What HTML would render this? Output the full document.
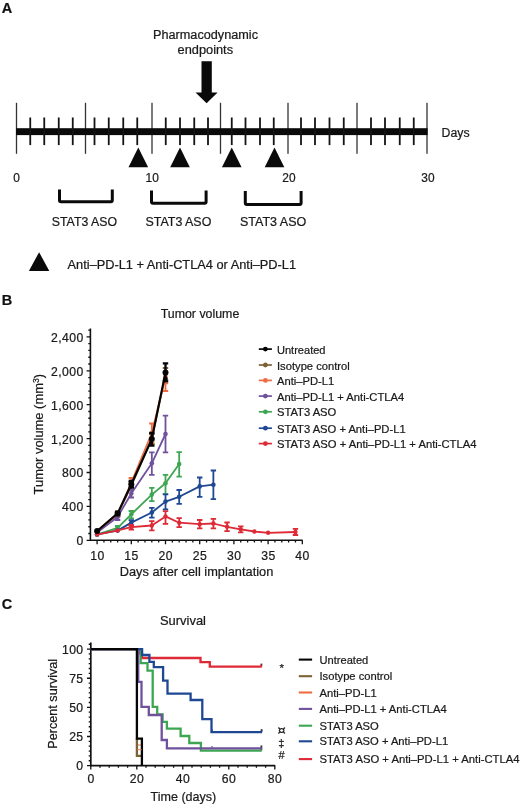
<!DOCTYPE html>
<html lang="en"><head><meta charset="utf-8"><title>Figure</title>
<style>
html,body{margin:0;padding:0;background:#fff;}
body{width:520px;height:805px;overflow:hidden;}
svg{display:block;font-family:"Liberation Sans", Arial, Helvetica, sans-serif;}
text{white-space:pre;stroke:#1a1a1a;stroke-width:0.22px;}
</style></head><body>
<svg width="520" height="805" viewBox="0 0 520 805">
<rect width="520" height="805" fill="#fff"/>
<text x="1.8" y="13.3" font-size="14.5" text-anchor="start" font-weight="bold" fill="#111">A</text>
<text x="205.5" y="38.8" font-size="12" text-anchor="middle" font-weight="normal" fill="#1a1a1a" textLength="105" lengthAdjust="spacingAndGlyphs">Pharmacodynamic</text>
<text x="205.3" y="53.8" font-size="12" text-anchor="middle" font-weight="normal" fill="#1a1a1a" textLength="55.5" lengthAdjust="spacingAndGlyphs">endpoints</text>
<path d="M201.5 61.2H211.8V92.5H217.6L206.6 103.2L195.5 92.5H201.5Z" fill="#0a0a0a"/>
<rect x="15.85" y="102.8" width="1.3" height="51" fill="#333"/>
<rect x="84.85" y="102.8" width="1.3" height="51" fill="#333"/>
<rect x="151.35" y="102.8" width="1.3" height="51" fill="#333"/>
<rect x="219.85" y="102.8" width="1.3" height="51" fill="#333"/>
<rect x="287.35" y="102.8" width="1.3" height="51" fill="#333"/>
<rect x="356.35" y="102.8" width="1.3" height="51" fill="#333"/>
<rect x="426.35" y="102.8" width="1.3" height="51" fill="#333"/>
<rect x="16" y="128.2" width="411.6" height="6.9" fill="#0a0a0a"/>
<rect x="29.35" y="117.5" width="1.8" height="27.6" fill="#141414"/>
<rect x="43.35" y="117.5" width="1.8" height="27.6" fill="#141414"/>
<rect x="57.85" y="117.5" width="1.8" height="27.6" fill="#141414"/>
<rect x="71.85" y="117.5" width="1.8" height="27.6" fill="#141414"/>
<rect x="93.6" y="117.5" width="1.8" height="27.6" fill="#141414"/>
<rect x="107.85" y="117.5" width="1.8" height="27.6" fill="#141414"/>
<rect x="122.35" y="117.5" width="1.8" height="27.6" fill="#141414"/>
<rect x="136.35" y="117.5" width="1.8" height="27.6" fill="#141414"/>
<rect x="164.85" y="117.5" width="1.8" height="27.6" fill="#141414"/>
<rect x="179.1" y="117.5" width="1.8" height="27.6" fill="#141414"/>
<rect x="193.35" y="117.5" width="1.8" height="27.6" fill="#141414"/>
<rect x="207.1" y="117.5" width="1.8" height="27.6" fill="#141414"/>
<rect x="230.85" y="117.5" width="1.8" height="27.6" fill="#141414"/>
<rect x="244.6" y="117.5" width="1.8" height="27.6" fill="#141414"/>
<rect x="259.1" y="117.5" width="1.8" height="27.6" fill="#141414"/>
<rect x="272.85" y="117.5" width="1.8" height="27.6" fill="#141414"/>
<rect x="300.1" y="117.5" width="1.8" height="27.6" fill="#141414"/>
<rect x="314.1" y="117.5" width="1.8" height="27.6" fill="#141414"/>
<rect x="328.6" y="117.5" width="1.8" height="27.6" fill="#141414"/>
<rect x="342.85" y="117.5" width="1.8" height="27.6" fill="#141414"/>
<rect x="370.1" y="117.5" width="1.8" height="27.6" fill="#141414"/>
<rect x="384.1" y="117.5" width="1.8" height="27.6" fill="#141414"/>
<rect x="398.85" y="117.5" width="1.8" height="27.6" fill="#141414"/>
<rect x="412.85" y="117.5" width="1.8" height="27.6" fill="#141414"/>
<path d="M138.3 147.4L148.10000000000002 167.2H128.5Z" fill="#0a0a0a"/>
<path d="M180 147.4L189.8 167.2H170.2Z" fill="#0a0a0a"/>
<path d="M231.75 147.4L241.55 167.2H221.95Z" fill="#0a0a0a"/>
<path d="M274.5 147.4L284.3 167.2H264.7Z" fill="#0a0a0a"/>
<text x="16.6" y="182.2" font-size="11.9" text-anchor="middle" font-weight="normal" fill="#1a1a1a">0</text>
<text x="152.2" y="182.2" font-size="11.9" text-anchor="middle" font-weight="normal" fill="#1a1a1a">10</text>
<text x="288.9" y="182.2" font-size="11.9" text-anchor="middle" font-weight="normal" fill="#1a1a1a">20</text>
<text x="427.9" y="182.2" font-size="11.9" text-anchor="middle" font-weight="normal" fill="#1a1a1a">30</text>
<text x="441.6" y="137" font-size="12" text-anchor="start" font-weight="normal" fill="#1a1a1a" textLength="28" lengthAdjust="spacingAndGlyphs">Days</text>
<path d="M59.5 189.5V200.2Q59.5 201.7 61 201.7H110.8Q112.3 201.7 112.3 200.2V189.5" fill="none" stroke="#0a0a0a" stroke-width="3"/>
<path d="M151.5 190.5V201.8Q151.5 203.3 153 203.3H204.6Q206.1 203.3 206.1 201.8V190.5" fill="none" stroke="#0a0a0a" stroke-width="3"/>
<path d="M245.3 191V203Q245.3 204.5 246.8 204.5H299.6Q301.1 204.5 301.1 203V191" fill="none" stroke="#0a0a0a" stroke-width="3"/>
<text x="51.8" y="225.5" font-size="12" text-anchor="start" font-weight="normal" fill="#1a1a1a" textLength="65.2" lengthAdjust="spacingAndGlyphs">STAT3 ASO</text>
<text x="145.5" y="225.5" font-size="12" text-anchor="start" font-weight="normal" fill="#1a1a1a" textLength="65.8" lengthAdjust="spacingAndGlyphs">STAT3 ASO</text>
<text x="240" y="225.5" font-size="12" text-anchor="start" font-weight="normal" fill="#1a1a1a" textLength="66.3" lengthAdjust="spacingAndGlyphs">STAT3 ASO</text>
<path d="M39.1 252.2L49.3 270.9H28.9Z" fill="#0a0a0a"/>
<text x="67.6" y="269.2" font-size="12" text-anchor="start" font-weight="normal" fill="#1a1a1a" textLength="228.5" lengthAdjust="spacingAndGlyphs">Anti–PD-L1 + Anti-CTLA4 or Anti–PD-L1</text>
<text x="1.8" y="304.6" font-size="14.5" text-anchor="start" font-weight="bold" fill="#111">B</text>
<text x="200" y="317.7" font-size="12.3" text-anchor="middle" font-weight="normal" fill="#1a1a1a" textLength="78.6" lengthAdjust="spacingAndGlyphs">Tumor volume</text>
<path d="M90.4 328.6V540.3H302.6" fill="none" stroke="#111" stroke-width="1.6"/>
<path d="M86.60000000000001 540.30H90.4M88.30000000000001 533.52H90.4M88.30000000000001 526.74H90.4M88.30000000000001 519.96H90.4M88.30000000000001 513.18H90.4M86.60000000000001 506.40H90.4M88.30000000000001 499.62H90.4M88.30000000000001 492.84H90.4M88.30000000000001 486.06H90.4M88.30000000000001 479.28H90.4M86.60000000000001 472.50H90.4M88.30000000000001 465.72H90.4M88.30000000000001 458.94H90.4M88.30000000000001 452.16H90.4M88.30000000000001 445.38H90.4M86.60000000000001 438.60H90.4M88.30000000000001 431.82H90.4M88.30000000000001 425.04H90.4M88.30000000000001 418.26H90.4M88.30000000000001 411.48H90.4M86.60000000000001 404.70H90.4M88.30000000000001 397.92H90.4M88.30000000000001 391.14H90.4M88.30000000000001 384.36H90.4M88.30000000000001 377.58H90.4M86.60000000000001 370.80H90.4M88.30000000000001 364.02H90.4M88.30000000000001 357.24H90.4M88.30000000000001 350.46H90.4M88.30000000000001 343.68H90.4M86.60000000000001 336.90H90.4M88.30000000000001 330.12H90.4" stroke="#111" stroke-width="1.3" fill="none"/>
<text x="83.8" y="545.2" font-size="12.2" text-anchor="end" font-weight="normal" fill="#1a1a1a" letter-spacing="0.45">0</text>
<text x="83.8" y="511.3" font-size="12.2" text-anchor="end" font-weight="normal" fill="#1a1a1a" letter-spacing="0.45">400</text>
<text x="83.8" y="477.4" font-size="12.2" text-anchor="end" font-weight="normal" fill="#1a1a1a" letter-spacing="0.45">800</text>
<text x="83.8" y="443.5" font-size="12.2" text-anchor="end" font-weight="normal" fill="#1a1a1a" letter-spacing="0.45">1,200</text>
<text x="83.8" y="409.6" font-size="12.2" text-anchor="end" font-weight="normal" fill="#1a1a1a" letter-spacing="0.45">1,600</text>
<text x="83.8" y="375.7" font-size="12.2" text-anchor="end" font-weight="normal" fill="#1a1a1a" letter-spacing="0.45">2,000</text>
<text x="83.8" y="341.8" font-size="12.2" text-anchor="end" font-weight="normal" fill="#1a1a1a" letter-spacing="0.45">2,400</text>
<path d="M97.10 540.3V544.3M103.94 540.3V542.4M110.78 540.3V542.4M117.62 540.3V542.4M124.46 540.3V542.4M131.30 540.3V544.3M138.14 540.3V542.4M144.98 540.3V542.4M151.82 540.3V542.4M158.66 540.3V542.4M165.50 540.3V544.3M172.34 540.3V542.4M179.18 540.3V542.4M186.02 540.3V542.4M192.86 540.3V542.4M199.70 540.3V544.3M206.54 540.3V542.4M213.38 540.3V542.4M220.22 540.3V542.4M227.06 540.3V542.4M233.90 540.3V544.3M240.74 540.3V542.4M247.58 540.3V542.4M254.42 540.3V542.4M261.26 540.3V542.4M268.10 540.3V544.3M274.94 540.3V542.4M281.78 540.3V542.4M288.62 540.3V542.4M295.46 540.3V542.4M302.30 540.3V544.3" stroke="#111" stroke-width="1.3" fill="none"/>
<text x="97.4" y="559.8" font-size="12.2" text-anchor="middle" font-weight="normal" fill="#1a1a1a" letter-spacing="0.45">10</text>
<text x="131.6" y="559.8" font-size="12.2" text-anchor="middle" font-weight="normal" fill="#1a1a1a" letter-spacing="0.45">15</text>
<text x="165.8" y="559.8" font-size="12.2" text-anchor="middle" font-weight="normal" fill="#1a1a1a" letter-spacing="0.45">20</text>
<text x="200.0" y="559.8" font-size="12.2" text-anchor="middle" font-weight="normal" fill="#1a1a1a" letter-spacing="0.45">25</text>
<text x="234.2" y="559.8" font-size="12.2" text-anchor="middle" font-weight="normal" fill="#1a1a1a" letter-spacing="0.45">30</text>
<text x="268.4" y="559.8" font-size="12.2" text-anchor="middle" font-weight="normal" fill="#1a1a1a" letter-spacing="0.45">35</text>
<text x="302.6" y="559.8" font-size="12.2" text-anchor="middle" font-weight="normal" fill="#1a1a1a" letter-spacing="0.45">40</text>
<text x="196.5" y="575.8" font-size="12.6" text-anchor="middle" font-weight="normal" fill="#1a1a1a" textLength="153.5" lengthAdjust="spacingAndGlyphs">Days after cell implantation</text>
<text transform="translate(43.2 494.4) rotate(-90)" font-size="12.5" fill="#1a1a1a" textLength="120.5" lengthAdjust="spacingAndGlyphs">Tumor volume (mm<tspan font-size="8.5" dy="-4.6">3</tspan><tspan dy="4.6">)</tspan></text>
<path d="M97.10 531.2L117.62 514L131.30 486L151.82 439L165.50 374" fill="none" stroke="#7d6234" stroke-width="1.8" stroke-linejoin="round"/>
<path d="M117.62 512V516M114.92 512H120.32M114.92 516H120.32M131.30 482V490M128.60 482H134.00M128.60 490H134.00M151.82 434V444M149.12 434H154.52M149.12 444H154.52M165.50 368V380M162.80 368H168.20M162.80 380H168.20" fill="none" stroke="#7d6234" stroke-width="1.8"/>
<circle cx="97.10" cy="531.2" r="2.3" fill="#7d6234"/>
<circle cx="117.62" cy="514" r="2.3" fill="#7d6234"/>
<circle cx="131.30" cy="486" r="2.3" fill="#7d6234"/>
<circle cx="151.82" cy="439" r="2.3" fill="#7d6234"/>
<circle cx="165.50" cy="374" r="2.3" fill="#7d6234"/>
<path d="M97.10 531.5L117.62 514.5L131.30 482.5L151.82 433L165.50 377" fill="none" stroke="#ee6c43" stroke-width="1.8" stroke-linejoin="round"/>
<path d="M117.62 512V517M114.92 512H120.32M114.92 517H120.32M131.30 478V487M128.60 478H134.00M128.60 487H134.00M151.82 423.5V442.5M149.12 423.5H154.52M149.12 442.5H154.52M165.50 383.4V391M162.80 383.4H168.20M162.80 391H168.20" fill="none" stroke="#ee6c43" stroke-width="1.8"/>
<circle cx="97.10" cy="531.5" r="2.3" fill="#ee6c43"/>
<circle cx="117.62" cy="514.5" r="2.3" fill="#ee6c43"/>
<circle cx="131.30" cy="482.5" r="2.3" fill="#ee6c43"/>
<circle cx="151.82" cy="433" r="2.3" fill="#ee6c43"/>
<circle cx="165.50" cy="377" r="2.3" fill="#ee6c43"/>
<path d="M97.10 532.5L117.62 517L131.30 493.5L151.82 463.3L165.50 434" fill="none" stroke="#6f519c" stroke-width="1.8" stroke-linejoin="round"/>
<path d="M117.62 514V520M114.92 514H120.32M114.92 520H120.32M131.30 489.8V497.5M128.60 489.8H134.00M128.60 497.5H134.00M151.82 452.4V474.8M149.12 452.4H154.52M149.12 474.8H154.52M165.50 415.7V452.4M162.80 415.7H168.20M162.80 452.4H168.20" fill="none" stroke="#6f519c" stroke-width="1.8"/>
<circle cx="97.10" cy="532.5" r="2.3" fill="#6f519c"/>
<circle cx="117.62" cy="517" r="2.3" fill="#6f519c"/>
<circle cx="131.30" cy="493.5" r="2.3" fill="#6f519c"/>
<circle cx="151.82" cy="463.3" r="2.3" fill="#6f519c"/>
<circle cx="165.50" cy="434" r="2.3" fill="#6f519c"/>
<path d="M97.10 534.5L117.62 527.8L131.30 514.3L151.82 494.6L165.50 483.2L179.18 464.1" fill="none" stroke="#3ea653" stroke-width="1.8" stroke-linejoin="round"/>
<path d="M117.62 526V529.6M114.92 526H120.32M114.92 529.6H120.32M131.30 511V518.4M128.60 511H134.00M128.60 518.4H134.00M151.82 487.8V501.2M149.12 487.8H154.52M149.12 501.2H154.52M165.50 474.9V494.2M162.80 474.9H168.20M162.80 494.2H168.20M179.18 452.1V476.6M176.48 452.1H181.88M176.48 476.6H181.88" fill="none" stroke="#3ea653" stroke-width="1.8"/>
<circle cx="97.10" cy="534.5" r="2.3" fill="#3ea653"/>
<circle cx="117.62" cy="527.8" r="2.3" fill="#3ea653"/>
<circle cx="131.30" cy="514.3" r="2.3" fill="#3ea653"/>
<circle cx="151.82" cy="494.6" r="2.3" fill="#3ea653"/>
<circle cx="165.50" cy="483.2" r="2.3" fill="#3ea653"/>
<circle cx="179.18" cy="464.1" r="2.3" fill="#3ea653"/>
<path d="M97.10 534.4L117.62 530.6L131.30 522.6L151.82 512.5L165.50 501.6L179.18 496.8L199.70 486.4L213.38 484.7" fill="none" stroke="#1f4894" stroke-width="1.8" stroke-linejoin="round"/>
<path d="M131.30 520.2V525.6M128.60 520.2H134.00M128.60 525.6H134.00M151.82 507.8V517.6M149.12 507.8H154.52M149.12 517.6H154.52M165.50 494.4V509.4M162.80 494.4H168.20M162.80 509.4H168.20M179.18 490V503.8M176.48 490H181.88M176.48 503.8H181.88M199.70 477.5V496.8M197.00 477.5H202.40M197.00 496.8H202.40M213.38 470.5V499.1M210.68 470.5H216.08M210.68 499.1H216.08" fill="none" stroke="#1f4894" stroke-width="1.8"/>
<circle cx="97.10" cy="534.4" r="2.3" fill="#1f4894"/>
<circle cx="117.62" cy="530.6" r="2.3" fill="#1f4894"/>
<circle cx="131.30" cy="522.6" r="2.3" fill="#1f4894"/>
<circle cx="151.82" cy="512.5" r="2.3" fill="#1f4894"/>
<circle cx="165.50" cy="501.6" r="2.3" fill="#1f4894"/>
<circle cx="179.18" cy="496.8" r="2.3" fill="#1f4894"/>
<circle cx="199.70" cy="486.4" r="2.3" fill="#1f4894"/>
<circle cx="213.38" cy="484.7" r="2.3" fill="#1f4894"/>
<path d="M97.10 534.6L117.62 530.4L131.30 527.2L151.82 525.5L165.50 516.4L179.18 522.7L199.70 524.2L213.38 523.5L227.06 526.8L240.74 529.3L254.42 531.5L268.10 532.8L295.46 532" fill="none" stroke="#dd2a36" stroke-width="1.8" stroke-linejoin="round"/>
<path d="M131.30 525V529.6M128.60 525H134.00M128.60 529.6H134.00M151.82 521.2V530.3M149.12 521.2H154.52M149.12 530.3H154.52M165.50 511.2V523.9M162.80 511.2H168.20M162.80 523.9H168.20M179.18 518.1V527.1M176.48 518.1H181.88M176.48 527.1H181.88M199.70 520V528.3M197.00 520H202.40M197.00 528.3H202.40M213.38 518.8V528.3M210.68 518.8H216.08M210.68 528.3H216.08M227.06 522.5V531.2M224.36 522.5H229.76M224.36 531.2H229.76M240.74 526.3V532.4M238.04 526.3H243.44M238.04 532.4H243.44M295.46 528.8V535M292.76 528.8H298.16M292.76 535H298.16" fill="none" stroke="#dd2a36" stroke-width="1.8"/>
<circle cx="97.10" cy="534.6" r="2.2" fill="#dd2a36"/>
<circle cx="117.62" cy="530.4" r="2.2" fill="#dd2a36"/>
<circle cx="131.30" cy="527.2" r="2.2" fill="#dd2a36"/>
<circle cx="151.82" cy="525.5" r="2.2" fill="#dd2a36"/>
<circle cx="165.50" cy="516.4" r="2.2" fill="#dd2a36"/>
<circle cx="179.18" cy="522.7" r="2.2" fill="#dd2a36"/>
<circle cx="199.70" cy="524.2" r="2.2" fill="#dd2a36"/>
<circle cx="213.38" cy="523.5" r="2.2" fill="#dd2a36"/>
<circle cx="227.06" cy="526.8" r="2.2" fill="#dd2a36"/>
<circle cx="240.74" cy="529.3" r="2.2" fill="#dd2a36"/>
<circle cx="254.42" cy="531.5" r="2.2" fill="#dd2a36"/>
<circle cx="268.10" cy="532.8" r="2.2" fill="#dd2a36"/>
<circle cx="295.46" cy="532" r="2.2" fill="#dd2a36"/>
<path d="M97.10 531L117.62 513.4L131.30 484.2L151.82 439L165.50 372.5" fill="none" stroke="#050505" stroke-width="2.1" stroke-linejoin="round"/>
<path d="M117.62 511.6V515.2M114.92 511.6H120.32M114.92 515.2H120.32M131.30 481V487.5M128.60 481H134.00M128.60 487.5H134.00M151.82 433V445.6M149.12 433H154.52M149.12 445.6H154.52M165.50 363.3V381.3M162.80 363.3H168.20M162.80 381.3H168.20" fill="none" stroke="#050505" stroke-width="2.3"/>
<circle cx="97.10" cy="531" r="3.0" fill="#050505"/>
<circle cx="117.62" cy="513.4" r="3.0" fill="#050505"/>
<circle cx="131.30" cy="484.2" r="3.0" fill="#050505"/>
<circle cx="151.82" cy="439" r="3.0" fill="#050505"/>
<circle cx="165.50" cy="372.5" r="3.0" fill="#050505"/>
<circle cx="165.50" cy="378.6" r="2.2" fill="#050505"/>
<path d="M258.8 349.1H271.9" stroke="#050505" stroke-width="1.7"/><circle cx="265.4" cy="349.1" r="2.4" fill="#050505"/>
<text x="277" y="353.6" font-size="11.2" text-anchor="start" font-weight="normal" fill="#1a1a1a" textLength="48.5" lengthAdjust="spacingAndGlyphs">Untreated</text>
<path d="M258.8 365H271.9" stroke="#7d6234" stroke-width="1.7"/><circle cx="265.4" cy="365" r="2.4" fill="#7d6234"/>
<text x="277" y="369.5" font-size="11.2" text-anchor="start" font-weight="normal" fill="#1a1a1a">Isotype control</text>
<path d="M258.8 380.4H271.9" stroke="#ee6c43" stroke-width="1.7"/><circle cx="265.4" cy="380.4" r="2.4" fill="#ee6c43"/>
<text x="277" y="384.9" font-size="11.2" text-anchor="start" font-weight="normal" fill="#1a1a1a">Anti–PD-L1</text>
<path d="M258.8 396.1H271.9" stroke="#6f519c" stroke-width="1.7"/><circle cx="265.4" cy="396.1" r="2.4" fill="#6f519c"/>
<text x="277" y="400.6" font-size="11.2" text-anchor="start" font-weight="normal" fill="#1a1a1a">Anti–PD-L1 + Anti-CTLA4</text>
<path d="M258.8 411.8H271.9" stroke="#3ea653" stroke-width="1.7"/><circle cx="265.4" cy="411.8" r="2.4" fill="#3ea653"/>
<text x="277" y="416.3" font-size="11.2" text-anchor="start" font-weight="normal" fill="#1a1a1a">STAT3 ASO</text>
<path d="M258.8 428.2H271.9" stroke="#1f4894" stroke-width="1.7"/><circle cx="265.4" cy="428.2" r="2.4" fill="#1f4894"/>
<text x="277" y="432.7" font-size="11.2" text-anchor="start" font-weight="normal" fill="#1a1a1a">STAT3 ASO + Anti–PD-L1</text>
<path d="M258.8 443.6H271.9" stroke="#dd2a36" stroke-width="1.7"/><circle cx="265.4" cy="443.6" r="2.4" fill="#dd2a36"/>
<text x="277" y="448.1" font-size="11.2" text-anchor="start" font-weight="normal" fill="#1a1a1a" textLength="199.5" lengthAdjust="spacingAndGlyphs">STAT3 ASO + Anti–PD-L1 + Anti-CTLA4</text>
<text x="1.8" y="609.4" font-size="14.5" text-anchor="start" font-weight="bold" fill="#111">C</text>
<text x="183" y="624.6" font-size="12.4" text-anchor="middle" font-weight="normal" fill="#1a1a1a" textLength="46" lengthAdjust="spacingAndGlyphs">Survival</text>
<path d="M90.8 642.6V765.6H275.2" fill="none" stroke="#111" stroke-width="1.7"/>
<path d="M87.0 765.60H90.8M88.7 760.75H90.8M88.7 755.89H90.8M88.7 751.04H90.8M88.7 746.18H90.8M88.7 741.33H90.8M87.0 736.48H90.8M88.7 731.62H90.8M88.7 726.77H90.8M88.7 721.91H90.8M88.7 717.06H90.8M88.7 712.20H90.8M87.0 707.35H90.8M88.7 702.50H90.8M88.7 697.64H90.8M88.7 692.79H90.8M88.7 687.93H90.8M88.7 683.08H90.8M87.0 678.23H90.8M88.7 673.37H90.8M88.7 668.52H90.8M88.7 663.66H90.8M88.7 658.81H90.8M88.7 653.95H90.8M87.0 649.10H90.8M88.7 644.25H90.8" stroke="#111" stroke-width="1.3" fill="none"/>
<path d="M90.80 765.6V769.6M100.00 765.6V767.7M109.20 765.6V767.7M118.40 765.6V767.7M127.60 765.6V767.7M136.80 765.6V769.6M146.00 765.6V767.7M155.20 765.6V767.7M164.40 765.6V767.7M173.60 765.6V767.7M182.80 765.6V769.6M192.00 765.6V767.7M201.20 765.6V767.7M210.40 765.6V767.7M219.60 765.6V767.7M228.80 765.6V769.6M238.00 765.6V767.7M247.20 765.6V767.7M256.40 765.6V767.7M265.60 765.6V767.7M274.80 765.6V769.6" stroke="#111" stroke-width="1.3" fill="none"/>
<text x="83.6" y="770.1" font-size="12.2" text-anchor="end" font-weight="normal" fill="#1a1a1a" letter-spacing="0.45">0</text>
<text x="83.6" y="740.98" font-size="12.2" text-anchor="end" font-weight="normal" fill="#1a1a1a" letter-spacing="0.45">25</text>
<text x="83.6" y="711.85" font-size="12.2" text-anchor="end" font-weight="normal" fill="#1a1a1a" letter-spacing="0.45">50</text>
<text x="83.6" y="682.73" font-size="12.2" text-anchor="end" font-weight="normal" fill="#1a1a1a" letter-spacing="0.45">75</text>
<text x="83.6" y="653.6" font-size="12.2" text-anchor="end" font-weight="normal" fill="#1a1a1a" letter-spacing="0.45">100</text>
<text x="91.1" y="783" font-size="12.2" text-anchor="middle" font-weight="normal" fill="#1a1a1a" letter-spacing="0.45">0</text>
<text x="137.1" y="783" font-size="12.2" text-anchor="middle" font-weight="normal" fill="#1a1a1a" letter-spacing="0.45">20</text>
<text x="183.1" y="783" font-size="12.2" text-anchor="middle" font-weight="normal" fill="#1a1a1a" letter-spacing="0.45">40</text>
<text x="229.1" y="783" font-size="12.2" text-anchor="middle" font-weight="normal" fill="#1a1a1a" letter-spacing="0.45">60</text>
<text x="275.1" y="783" font-size="12.2" text-anchor="middle" font-weight="normal" fill="#1a1a1a" letter-spacing="0.45">80</text>
<text x="183.4" y="800.8" font-size="12.8" text-anchor="middle" font-weight="normal" fill="#1a1a1a" textLength="65.8" lengthAdjust="spacingAndGlyphs">Time (days)</text>
<text transform="translate(57.4 748.8) rotate(-90)" font-size="12.5" fill="#1a1a1a" textLength="90" lengthAdjust="spacingAndGlyphs">Percent survival</text>
<path d="M90.8 649.2H139.5V653.6H142V658H200.5V662.1H209.8V666.6H261.8V666.6" fill="none" stroke="#dd2a36" stroke-width="2.3" stroke-linejoin="miter"/>
<path d="M261.4 666.6v-2.9" stroke="#dd2a36" stroke-width="1.7"/><path d="M261.4 665.6v-1.9" stroke="#222" stroke-opacity="0.55" stroke-width="1.7"/>
<path d="M90.8 649.2H140.7V663.1H147.5V670.6H152.7V706.9H157.2V714.4H162.6V721.9H166.9V728.7H180.6V736H189.3V743H200.9V750.7H261.8V750.7" fill="none" stroke="#3ea653" stroke-width="2.3" stroke-linejoin="miter"/>
<path d="M261.4 750.7v-2.9" stroke="#3ea653" stroke-width="1.7"/><path d="M261.4 749.7v-1.9" stroke="#222" stroke-opacity="0.55" stroke-width="1.7"/>
<path d="M90.8 649.2H138.2V681.9H141.5V706.9H148.8V715H161.7V740H166.9V748.4H261.8V748.4" fill="none" stroke="#6f519c" stroke-width="2.3" stroke-linejoin="miter"/>
<path d="M261.4 748.4v-2.9" stroke="#6f519c" stroke-width="1.7"/><path d="M261.4 747.4v-1.9" stroke="#222" stroke-opacity="0.55" stroke-width="1.7"/>
<path d="M90.8 649.2H142.1V655H149.4V661.9H153.8V667.2H163.1V680.6H167.5V693.6H190.6V700H202.3V719.2H211.5V732.2H262V732.2" fill="none" stroke="#1f4894" stroke-width="2.3" stroke-linejoin="miter"/>
<path d="M261.6 732.2v-2.9" stroke="#1f4894" stroke-width="1.7"/><path d="M261.6 731.2v-1.9" stroke="#222" stroke-opacity="0.55" stroke-width="1.7"/>
<path d="M137.2 745H141.9V745" fill="none" stroke="#ee6c43" stroke-width="1.3" stroke-linejoin="miter" opacity="0.75"/>
<path d="M136.9 738.6H136.9V755.8H141.9V755.8" fill="none" stroke="#7d6234" stroke-width="2.3" stroke-linejoin="miter"/>
<path d="M90.8 649.2H136.9V738.6H141.9V765.6" fill="none" stroke="#050505" stroke-width="2.3" stroke-linejoin="miter"/>
<path d="M137 749.6H141.9" stroke="#ee6c43" stroke-width="1.2" opacity="0.7"/>
<path d="M212 748.6v-2.6" stroke="#6f519c" stroke-width="1.2"/>
<path d="M212.3 732.2v-2.6" stroke="#1f4894" stroke-width="1.2"/>
<text x="281.7" y="671.6" font-size="11.5" text-anchor="middle" font-weight="normal" fill="#1a1a1a">*</text>
<text x="281.6" y="734.0" font-size="13" text-anchor="middle" font-weight="normal" fill="#1a1a1a" font-family="DejaVu Sans, sans-serif">¤</text>
<text x="281.3" y="747.0" font-size="11.2" text-anchor="middle" font-weight="normal" fill="#1a1a1a">‡</text>
<text x="281.5" y="758.5" font-size="11" text-anchor="middle" font-weight="normal" fill="#1a1a1a">#</text>
<path d="M298.8 659.6H312.1" stroke="#050505" stroke-width="2.1"/>
<text x="319.5" y="663.7" font-size="11.2" text-anchor="start" font-weight="normal" fill="#1a1a1a" textLength="48.8" lengthAdjust="spacingAndGlyphs">Untreated</text>
<path d="M298.8 676.2H312.1" stroke="#7d6234" stroke-width="2.1"/>
<text x="319.5" y="680.3" font-size="11.2" text-anchor="start" font-weight="normal" fill="#1a1a1a">Isotype control</text>
<path d="M298.8 692.5H312.1" stroke="#ee6c43" stroke-width="2.1"/>
<text x="319.5" y="696.6" font-size="11.2" text-anchor="start" font-weight="normal" fill="#1a1a1a">Anti–PD-L1</text>
<path d="M298.8 708.9H312.1" stroke="#6f519c" stroke-width="2.1"/>
<text x="319.5" y="713.0" font-size="11.2" text-anchor="start" font-weight="normal" fill="#1a1a1a">Anti–PD-L1 + Anti-CTLA4</text>
<path d="M298.8 725.7H312.1" stroke="#3ea653" stroke-width="2.1"/>
<text x="319.5" y="729.8" font-size="11.2" text-anchor="start" font-weight="normal" fill="#1a1a1a">STAT3 ASO</text>
<path d="M298.8 741.3H312.1" stroke="#1f4894" stroke-width="2.1"/>
<text x="319.5" y="745.4" font-size="11.2" text-anchor="start" font-weight="normal" fill="#1a1a1a">STAT3 ASO + Anti–PD-L1</text>
<path d="M298.8 759.1H312.1" stroke="#dd2a36" stroke-width="2.1"/>
<text x="319.5" y="763.2" font-size="11.2" text-anchor="start" font-weight="normal" fill="#1a1a1a" textLength="200" lengthAdjust="spacingAndGlyphs">STAT3 ASO + Anti–PD-L1 + Anti-CTLA4</text>
</svg>
</body></html>
